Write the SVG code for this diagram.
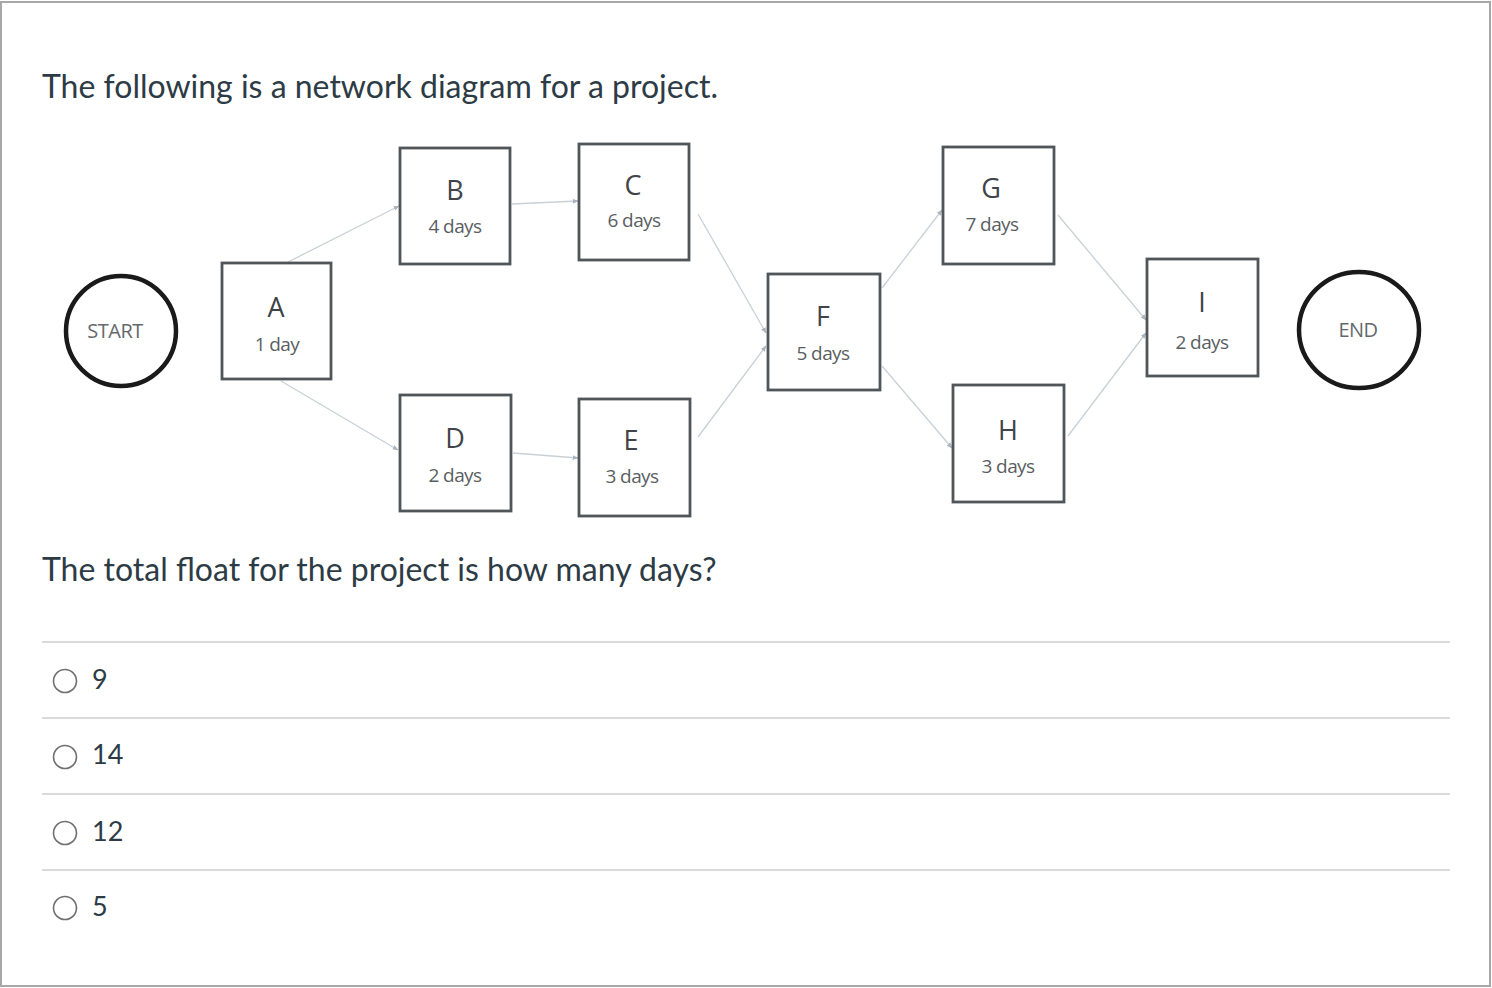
<svg xmlns="http://www.w3.org/2000/svg" width="1492" height="988" viewBox="0 0 1492 988">
<defs>
<style>
.q{font-family:Lato,"Open Sans","Liberation Sans",sans-serif;fill:#2d3b45}
.title{font-size:32px}
.opt{font-size:27px}
.box{fill:#ffffff;stroke:#50555a;stroke-width:2.8}
.ring{fill:#ffffff;stroke:#1a1a1a;stroke-width:4.5}
.nl{font-family:"Open Sans","Noto Sans","Liberation Sans",sans-serif;text-anchor:middle}
.big{font-size:27px;fill:#404448}
.small{font-size:19px;letter-spacing:-0.6px;fill:#5a5e62}
.ct{font-size:20px;fill:#65696d;letter-spacing:-0.5px}
.edge{stroke:#c9d0d6;stroke-width:1.3;fill:none;marker-end:url(#ah)}
.sep{stroke:#dadada;stroke-width:2}
.radio{fill:#ffffff;stroke:#707070;stroke-width:1.6}
</style>
<marker id="ah" viewBox="0 0 10 10" refX="9" refY="5" markerWidth="6" markerHeight="6" orient="auto" markerUnits="userSpaceOnUse">
<path d="M0,1 L10,5 L0,9 Z" fill="#aab4bd"/>
</marker>
</defs>
<rect x="0" y="0" width="1492" height="988" fill="#ffffff"/>
<rect x="1" y="2" width="1489" height="984" fill="none" stroke="#a8a8a8" stroke-width="2"/>
<text class="q title" x="42" y="98">The following is a network diagram for a project.</text>

<g id="connectors">
<line class="edge" x1="288" y1="262" x2="399" y2="206"/>
<line class="edge" x1="512" y1="204" x2="578" y2="201"/>
<line class="edge" x1="281" y1="381" x2="398" y2="450"/>
<line class="edge" x1="513" y1="453" x2="578" y2="458"/>
<line class="edge" x1="698" y1="214" x2="766" y2="333"/>
<line class="edge" x1="698" y1="437" x2="766" y2="346"/>
<line class="edge" x1="882" y1="288" x2="942" y2="210"/>
<line class="edge" x1="882" y1="366" x2="952" y2="448"/>
<line class="edge" x1="1058" y1="215" x2="1146" y2="320"/>
<line class="edge" x1="1068" y1="436" x2="1146" y2="333"/>
</g>

<g id="start">
<ellipse class="ring" cx="121" cy="331" rx="55" ry="55"/>
<text class="nl ct" x="115" y="338">START</text>
</g>
<g id="nodeA">
<rect class="box" x="222" y="263" width="109" height="116"/>
<text class="nl big" x="276" y="317">A</text>
<text class="nl small" x="277" y="351">1 day</text>
</g>
<g id="nodeB">
<rect class="box" x="400" y="148" width="110" height="116"/>
<text class="nl big" x="455" y="200">B</text>
<text class="nl small" x="455" y="233">4 days</text>
</g>
<g id="nodeC">
<rect class="box" x="579" y="144" width="110" height="116"/>
<text class="nl big" x="633" y="195">C</text>
<text class="nl small" x="634" y="227">6 days</text>
</g>
<g id="nodeD">
<rect class="box" x="400" y="395" width="111" height="116"/>
<text class="nl big" x="455" y="448">D</text>
<text class="nl small" x="455" y="482">2 days</text>
</g>
<g id="nodeE">
<rect class="box" x="579" y="399" width="111" height="117"/>
<text class="nl big" x="631" y="450">E</text>
<text class="nl small" x="632" y="483">3 days</text>
</g>
<g id="nodeF">
<rect class="box" x="768" y="274" width="112" height="116"/>
<text class="nl big" x="823" y="326">F</text>
<text class="nl small" x="823" y="360">5 days</text>
</g>
<g id="nodeG">
<rect class="box" x="943" y="147" width="111" height="117"/>
<text class="nl big" x="991" y="198">G</text>
<text class="nl small" x="992" y="231">7 days</text>
</g>
<g id="nodeH">
<rect class="box" x="953" y="385" width="111" height="117"/>
<text class="nl big" x="1008" y="440">H</text>
<text class="nl small" x="1008" y="473">3 days</text>
</g>
<g id="nodeI">
<rect class="box" x="1147" y="259" width="111" height="117"/>
<text class="nl big" x="1202" y="312">I</text>
<text class="nl small" x="1202" y="349">2 days</text>
</g>
<g id="end">
<ellipse class="ring" cx="1359" cy="330" rx="60" ry="58"/>
<text class="nl ct" x="1358" y="337">END</text>
</g>

<text class="q title" x="42" y="581">The total float for the project is how many days?</text>

<line class="sep" x1="42" y1="642" x2="1450" y2="642"/>
<line class="sep" x1="42" y1="718" x2="1450" y2="718"/>
<line class="sep" x1="42" y1="794" x2="1450" y2="794"/>
<line class="sep" x1="42" y1="870" x2="1450" y2="870"/>

<g id="options">
<circle class="radio" cx="65" cy="681" r="11.5"/>
<text class="q opt" x="92" y="689">9</text>
<circle class="radio" cx="65" cy="757" r="11.5"/>
<text class="q opt" x="92" y="764">14</text>
<circle class="radio" cx="65" cy="833" r="11.5"/>
<text class="q opt" x="92" y="841">12</text>
<circle class="radio" cx="65" cy="908" r="11.5"/>
<text class="q opt" x="92" y="916">5</text>
</g>
</svg>
